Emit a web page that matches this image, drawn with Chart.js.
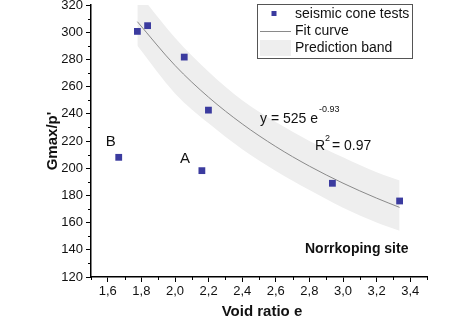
<!DOCTYPE html>
<html>
<head>
<meta charset="utf-8">
<script src="https://cdn.jsdelivr.net/npm/chart.js@4"></script>
<style>
  html, body { margin: 0; padding: 0; background: #fff; }
  canvas { display: block; }
</style>
</head>
<body>
<canvas id="gChart" width="474" height="327"></canvas>
<script>
// seismic cone test results, Norrkoping site
const voidRatio = [1.776, 1.837, 2.055, 2.199, 1.665, 2.160, 2.937, 3.337];
const gRatio = [300.6, 304.8, 281.7, 242.7, 208.0, 198.2, 188.9, 175.9];

// fit y = 525 e^-0.93 and its prediction band
const fitA = 525;
const fitB = -0.93;
const bandE = [1.776, 2.0, 2.2, 2.4, 2.6, 2.8, 3.0, 3.2, 3.337];
const bandUpper = [330, 296, 271, 250, 234, 220, 208, 197, 191];
const bandLower = [290, 255, 233, 214, 198, 184, 171, 160, 154];

const xTicks = [1.6, 1.8, 2.0, 2.2, 2.4, 2.6, 2.8, 3.0, 3.2, 3.4];
const xMinor = [1.5, 1.7, 1.9, 2.1, 2.3, 2.5, 2.7, 2.9, 3.1, 3.3, 3.5];
const yTicks = [120, 140, 160, 180, 200, 220, 240, 260, 280, 300, 320];
const yMinor = [130, 150, 170, 190, 210, 230, 250, 270, 290, 310];

const FONT = '"Liberation Sans", Arial, sans-serif';
const pointColor = '#3b3b9f';
const bandColor = '#eeeeee';
const curveColor = '#8a8a8a';

const pts = voidRatio.map((e, i) => ({ x: e, y: gRatio[i] }));
const upper = bandE.map((e, i) => ({ x: e, y: bandUpper[i] }));
const lower = bandE.map((e, i) => ({ x: e, y: bandLower[i] }));
const fit = bandE.map(e => ({ x: e, y: fitA * Math.pow(e, fitB) }));

const extras = {
  id: 'extras',
  afterDraw(chart) {
    const { ctx, chartArea: a, scales: { x, y } } = chart;
    ctx.save();

    // minor ticks
    ctx.strokeStyle = '#000';
    ctx.lineWidth = 1;
    ctx.beginPath();
    xMinor.forEach(v => {
      const px = Math.round(x.getPixelForValue(v)) + 0.5;
      ctx.moveTo(px, a.bottom);
      ctx.lineTo(px, a.bottom + 3);
    });
    yMinor.forEach(v => {
      const py = Math.round(y.getPixelForValue(v)) + 0.5;
      ctx.moveTo(a.left - 3, py);
      ctx.lineTo(a.left, py);
    });
    ctx.stroke();

    ctx.fillStyle = '#111';

    // axis titles
    ctx.font = 'bold 15px ' + FONT;
    ctx.textAlign = 'center';
    ctx.textBaseline = 'middle';
    ctx.fillText('Void ratio e', (a.left + a.right) / 2 + 3, 312);
    ctx.save();
    ctx.translate(53, (a.top + a.bottom) / 2);
    ctx.rotate(-Math.PI / 2);
    ctx.fillText("Gmax/p'", 0, 0);
    ctx.restore();

    // point labels
    ctx.font = '15px ' + FONT;
    ctx.fillText('B', x.getPixelForValue(voidRatio[4]) - 8, y.getPixelForValue(gRatio[4]) - 15);
    ctx.fillText('A', x.getPixelForValue(voidRatio[5]) - 17, y.getPixelForValue(gRatio[5]) - 12);

    // equation and R²
    ctx.textAlign = 'left';
    ctx.font = '14px ' + FONT;
    ctx.fillText('y = ' + fitA + ' e', 260, 119);
    ctx.fillText('R', 315, 146);
    ctx.fillText('= 0.97', 332, 146);
    ctx.font = '9px ' + FONT;
    ctx.fillText(String(fitB), 319, 110);
    ctx.fillText('2', 325, 139);

    ctx.font = 'bold 14px ' + FONT;
    ctx.fillText('Norrkoping site', 305, 249);

    // legend
    ctx.strokeStyle = '#555';
    ctx.lineWidth = 1;
    ctx.strokeRect(257.5, 4.5, 155, 54);
    ctx.fillStyle = bandColor;
    ctx.fillRect(260, 40, 31, 16);
    ctx.fillStyle = pointColor;
    ctx.fillRect(271.5, 11, 5, 5);
    ctx.strokeStyle = curveColor;
    ctx.beginPath();
    ctx.moveTo(260, 31.5);
    ctx.lineTo(291, 31.5);
    ctx.stroke();
    ctx.fillStyle = '#111';
    ctx.font = '14px ' + FONT;
    ctx.fillText('seismic cone tests', 295, 14);
    ctx.fillText('Fit curve', 295, 31);
    ctx.fillText('Prediction band', 295, 48);

    ctx.restore();
  }
};

const ctx = document.getElementById('gChart').getContext('2d');
const gChart = new Chart(ctx, {
  type: 'scatter',
  data: {
    datasets: [
      {
        label: 'Prediction band',
        data: upper,
        showLine: true,
        pointRadius: 0,
        borderWidth: 0,
        borderColor: 'rgba(0,0,0,0)',
        backgroundColor: bandColor,
        fill: '+1',
        cubicInterpolationMode: 'monotone',
        order: 4
      },
      {
        label: 'band lower',
        data: lower,
        showLine: true,
        pointRadius: 0,
        borderWidth: 0,
        borderColor: 'rgba(0,0,0,0)',
        fill: false,
        cubicInterpolationMode: 'monotone',
        order: 3
      },
      {
        label: 'Fit curve',
        data: fit,
        showLine: true,
        pointRadius: 0,
        borderWidth: 1,
        borderColor: curveColor,
        fill: false,
        cubicInterpolationMode: 'monotone',
        order: 2
      },
      {
        label: 'seismic cone tests',
        data: pts,
        pointStyle: 'rect',
        pointRadius: 4.8,
        pointBackgroundColor: pointColor,
        pointBorderWidth: 0,
        order: 1
      }
    ]
  },
  options: {
    responsive: false,
    animation: false,
    layout: { padding: { left: 0, right: 47, top: 5, bottom: 0 } },
    plugins: {
      legend: { display: false },
      tooltip: { enabled: false }
    },
    scales: {
      x: {
        type: 'linear',
        min: 1.5,
        max: 3.5,
        afterBuildTicks: scale => { scale.ticks = xTicks.map(v => ({ value: v })); },
        afterFit: scale => {
          scale.height = 50;
          scale.paddingLeft = 0;
          scale.paddingRight = 0;
        },
        border: { color: '#000', width: 1.5 },
        grid: { drawOnChartArea: false, tickLength: 5, tickColor: '#000', tickWidth: 1 },
        ticks: {
          padding: 2,
          color: '#111',
          font: { family: FONT, size: 13 },
          callback: v => v.toFixed(1).replace('.', ',')
        }
      },
      y: {
        min: 120,
        max: 320,
        afterBuildTicks: scale => { scale.ticks = yTicks.map(v => ({ value: v })); },
        afterFit: scale => {
          scale.width = 91;
          scale.paddingTop = 0;
          scale.paddingBottom = 0;
        },
        border: { color: '#000', width: 1.5 },
        grid: { drawOnChartArea: false, tickLength: 5, tickColor: '#000', tickWidth: 1 },
        ticks: {
          padding: 3,
          color: '#111',
          font: { family: FONT, size: 13 }
        }
      }
    }
  },
  plugins: [extras]
});
</script>
</body>
</html>
